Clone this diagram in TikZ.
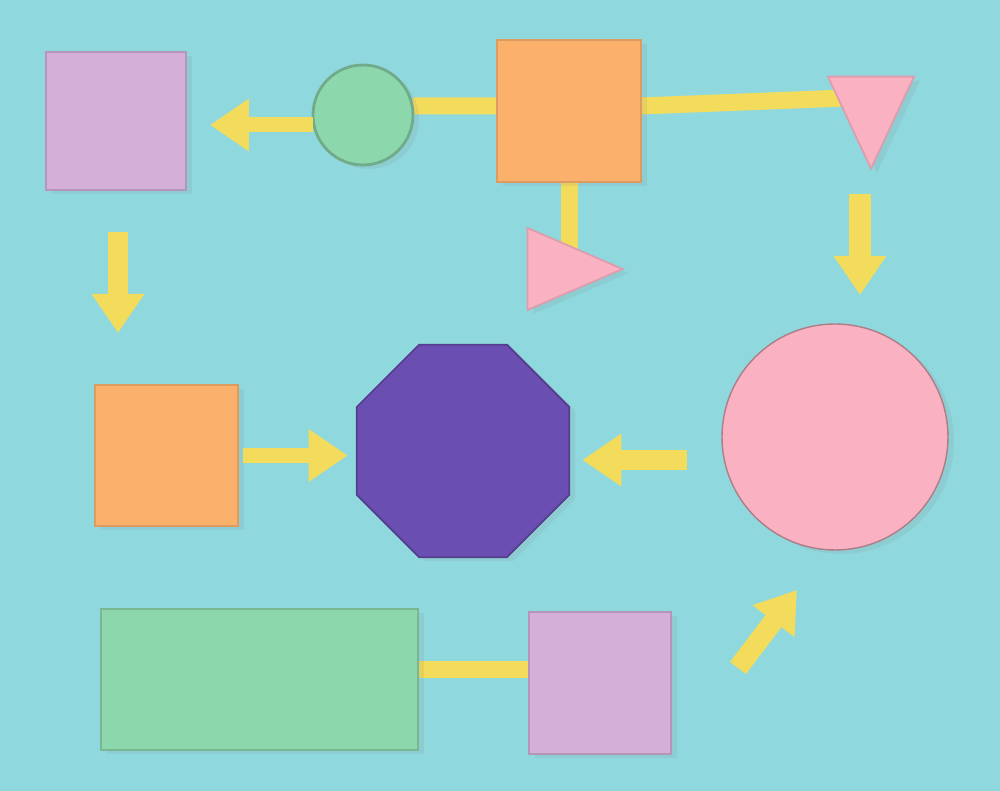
\documentclass[tikz,border=0pt]{standalone}
\usetikzlibrary{positioning, shapes.geometric, arrows.meta, shadows}
\definecolor{board}{HTML}{8FD8DE}
\definecolor{tape}{HTML}{F3DC5B}
\definecolor{mint}{HTML}{8DD7AC}
\definecolor{apricot}{HTML}{FBB06C}
\definecolor{lilac}{HTML}{D4B0D8}
\definecolor{rose}{HTML}{FAB2C3}
\definecolor{grape}{HTML}{6A4EB2}

\begin{document}
\begin{tikzpicture}[x=0.1mm, y=-0.1mm,
	sheet/.style={inner sep=0pt, outer sep=0pt, line width=0.5pt},
	paper/.style={sheet, drop shadow={shadow xshift=0.6mm, shadow yshift=-0.4mm, opacity=0.12}},
	bar/.style={draw=tape, line width=1.7mm},
	tip/.style={draw=tape, line width=#1, -{Triangle[width=5mm, length=3.9mm]}},
	tip/.default=2mm]
	\fill[board] (0, 0) rectangle (1000, 791);

	% tape under the shapes
	\node[sheet, circle, minimum size=10mm] (circA) at (363, 115) {};
	\node[sheet, minimum width=14.4mm, minimum height=14.2mm] (sqB) at (569, 111) {};
	\node[sheet, isosceles triangle, isosceles triangle stretches, shape border rotate=-90,
		minimum width=8.6mm, minimum height=9.2mm] (triA) at (871, 104) {};
	\node[sheet, isosceles triangle, isosceles triangle stretches,
		minimum width=8.2mm, minimum height=9.5mm] (triB) at (554.5, 269) {};
	\node[sheet, minimum width=31.7mm, minimum height=14.1mm] (rectD) at (259.5, 679.5) {};
	\node[sheet, minimum width=14.2mm, minimum height=14.2mm] (sqE) at (600, 683) {};
	\draw[bar] ([yshift=0.9mm]circA.east) -- ([yshift=0.5mm]sqB.west);
	\draw[bar] ([yshift=0.5mm]sqB.east) -- ([yshift=0.7mm]triA.center);
	\draw[bar] (sqB.south) -- (sqB.south |- triB.center);
	\draw[bar] ([yshift=1mm]rectD.east) -- ([yshift=1mm]rectD.east -| sqE.west);

	% shapes
	\node[paper, fill=lilac, draw=lilac!85!black, minimum width=14mm, minimum height=13.8mm] (sqA) at (116, 121) {};
	\node[paper, fill=mint, draw=mint!80!black, line width=0.8pt, circle, minimum size=10mm] at (circA) {};
	\node[paper, fill=apricot, draw=apricot!88!black, minimum width=14.4mm, minimum height=14.2mm] at (sqB) {};
	\node[paper, fill=rose, draw=rose!88!black, isosceles triangle, isosceles triangle stretches, shape border rotate=-90,
		minimum width=8.6mm, minimum height=9.2mm] at (triA) {};
	\node[paper, fill=rose, draw=rose!88!black, isosceles triangle, isosceles triangle stretches,
		minimum width=8.2mm, minimum height=9.5mm] at (triB) {};
	\node[paper, fill=apricot, draw=apricot!88!black, minimum width=14.3mm, minimum height=14.1mm] (sqC) at (166.5, 455.5) {};
	\node[paper, fill=grape, draw=grape!80!black, regular polygon, regular polygon sides=8, minimum size=23mm] (oct) at (463, 451) {};
	\node[paper, fill=rose, draw=rose!70!black, line width=0.4pt, circle, minimum size=22.6mm] (circB) at (835, 437) {};
	\node[paper, fill=mint, draw=mint!85!black, minimum width=31.7mm, minimum height=14.1mm] at (rectD) {};
	\node[paper, fill=lilac, draw=lilac!85!black, minimum width=14.2mm, minimum height=14.2mm] at (sqE) {};

	% arrows
	\draw[tip=1.5mm, shorten >=2.4mm] ([yshift=-1mm]circA.west) -- ([yshift=-1mm]circA.west -| sqA.east);
	\draw[tip, shorten <=4.2mm, shorten >=5.2mm] ([xshift=0.2mm]sqA.south) -- ([xshift=0.2mm]sqA.south |- sqC.north);
	\draw[tip=1.5mm, shorten <=0.5mm, shorten >=0.9mm] (sqC.east) -- (sqC.east -| oct.west);
	\draw[tip, shorten <=3.5mm, shorten >=1.3mm] ([yshift=-2.3mm]circB.west) -- ([yshift=-2.3mm]circB.west -| oct.east);
	\draw[tip=2.2mm, shorten <=2.5mm, shorten >=2.9mm] ([xshift=-1.1mm]triA.south) -- ([xshift=-1.1mm]triA.south |- circB.north);
	\coordinate (tail) at (738, 668);
	\coordinate (head) at (797, 590);
	\draw[tip] (tail) -- (head);
\end{tikzpicture}
\end{document}
